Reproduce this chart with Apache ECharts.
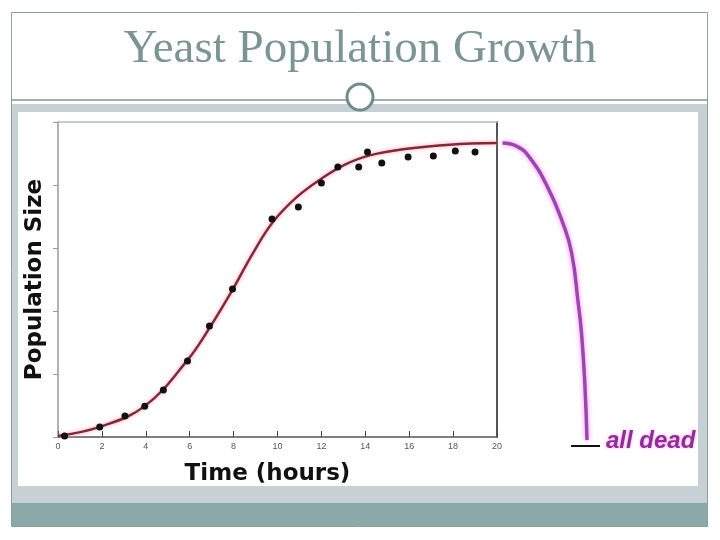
<!DOCTYPE html>
<html>
<head>
<meta charset="utf-8">
<script src="https://cdn.jsdelivr.net/npm/echarts@6/dist/echarts.min.js"></script>
<style>
  html, body { margin: 0; padding: 0; background: #fff; }
  #chart { width: 720px; height: 540px; }
</style>
</head>
<body>
<div id="chart"></div>
<script>
// measured points (hours, population on a 0-100 scale)
var obsTime = [0.3, 1.9, 3.05, 3.95, 4.8, 5.9, 6.9, 7.95, 9.75, 10.95, 12.0, 12.75, 13.7, 14.1, 14.75, 15.95, 17.1, 18.1, 19.0];
var obsPop  = [0.3, 3.2, 6.7, 9.8, 14.9, 24.1, 35.2, 47.0, 69.2, 73.0, 80.6, 85.7, 85.7, 90.5, 87.0, 88.9, 89.2, 90.8, 90.5];

// fitted growth curve
var fitTime = [0, 1.9, 3.95, 5.9, 6.9, 7.95, 8.85, 9.8, 10.9, 12.0, 13.05, 14.2, 16.0, 17.85, 20];
var fitPop  = [0.3, 3.2, 9.8, 24.4, 34.6, 46.7, 58.0, 68.3, 76.3, 82.0, 86.4, 89.4, 91.6, 92.8, 93.3];

// decline after the nutrients run out
var dieTime = [20.25, 20.95, 21.5, 22.3, 23.0, 23.4, 23.7, 23.85, 24.0, 24.1];
var diePop  = [93.3, 92.1, 88.6, 79.4, 67.9, 58.4, 42.5, 33.0, 17.1, -1.0];

function pairs(xs, ys) {
    var out = [];
    for (var i = 0; i < xs.length; i++) {
        out.push([xs[i], ys[i]]);
    }
    return out;
}

var myChart = echarts.init(document.getElementById('chart'));

var option = {
    backgroundColor: '#ffffff',
    animation: false,
    graphic: [
        // slide frame
        { type: 'rect', shape: { x: 11.5, y: 12.5, width: 696, height: 514 },
          style: { fill: 'none', stroke: '#8c9e9e', lineWidth: 1 } },
        { type: 'rect', shape: { x: 12, y: 104, width: 695, height: 400 },
          style: { fill: '#c6d0d5' } },
        { type: 'rect', shape: { x: 18, y: 112, width: 680, height: 374 },
          style: { fill: '#ffffff' } },
        { type: 'rect', shape: { x: 12, y: 503, width: 695, height: 23 },
          style: { fill: '#89aaa8' } },
        { type: 'line', shape: { x1: 11, y1: 100, x2: 708, y2: 100 },
          style: { stroke: '#7f9696', lineWidth: 1.5 } },
        { type: 'circle', shape: { cx: 360, cy: 97, r: 13 },
          style: { fill: '#ffffff', stroke: '#6f8b8b', lineWidth: 3 } },
        { type: 'text', x: 360, y: 73,
          style: { text: 'Yeast Population Growth', align: 'center', verticalAlign: 'bottom',
                   font: '47px "Liberation Serif", serif', fill: '#7b9494' } },
        // "all dead" note
        { type: 'line', shape: { x1: 571, y1: 446, x2: 600, y2: 446 },
          style: { stroke: '#111', lineWidth: 2 }, z: 5 },
        { type: 'text', x: 606, y: 441, z: 5,
          style: { text: 'all dead', verticalAlign: 'middle',
                   font: 'italic bold 24px "Liberation Sans", Arial, sans-serif',
                   fill: '#932c99', textShadowColor: '#ff9cff', textShadowBlur: 3 } }
    ],
    grid: [
        { left: 58, top: 122, width: 439, height: 315, containLabel: false },
        { left: 58, top: 122, width: 658.5, height: 346.5, containLabel: false }
    ],
    xAxis: [
        {
            type: 'value', gridIndex: 0, min: 0, max: 20, interval: 2,
            name: 'Time (hours)', nameLocation: 'middle', nameGap: 26,
            nameTextStyle: { fontFamily: 'DejaVu Sans', fontWeight: 'bold', fontSize: 23,
                             color: '#111', padding: [0, 20, 0, 0] },
            axisLine: { lineStyle: { color: '#555', width: 1.5 } },
            axisTick: { inside: true, length: 6, lineStyle: { color: '#444' } },
            axisLabel: { fontSize: 9, color: '#555', margin: 5 },
            splitLine: { show: false }
        },
        {
            type: 'value', gridIndex: 0, min: 0, max: 20, position: 'top',
            axisLine: { show: true, onZero: false, lineStyle: { color: '#b4b8c4', width: 1.5 } },
            axisTick: { show: false }, axisLabel: { show: false }, splitLine: { show: false }
        },
        {
            type: 'value', gridIndex: 1, min: 0, max: 30, show: false
        }
    ],
    yAxis: [
        {
            type: 'value', gridIndex: 0, min: 0, max: 100, interval: 20,
            name: 'Population Size', nameLocation: 'middle', nameGap: 11,
            nameTextStyle: { fontFamily: 'DejaVu Sans', fontWeight: 'bold', fontSize: 23, color: '#111' },
            axisLine: { lineStyle: { color: '#999', width: 1.5 } },
            axisTick: { length: 5, lineStyle: { color: '#999' } },
            axisLabel: { show: false },
            splitLine: { show: false }
        },
        {
            type: 'value', gridIndex: 0, min: 0, max: 100, position: 'right',
            axisLine: { show: true, onZero: false, lineStyle: { color: '#555', width: 2 } },
            axisTick: { show: false }, axisLabel: { show: false }, splitLine: { show: false }
        },
        {
            type: 'value', gridIndex: 1, min: -10, max: 100, show: false
        }
    ],
    series: [
        {
            type: 'line', xAxisIndex: 0, yAxisIndex: 0,
            data: pairs(fitTime, fitPop), smooth: 0.4, showSymbol: false,
            lineStyle: { color: '#852833', width: 2.5, shadowColor: '#ffa0bc', shadowBlur: 4 },
            z: 3
        },
        {
            type: 'scatter', xAxisIndex: 0, yAxisIndex: 0,
            data: pairs(obsTime, obsPop), symbol: 'circle', symbolSize: 7,
            itemStyle: { color: '#111', opacity: 1 },
            z: 4
        },
        {
            type: 'line', xAxisIndex: 2, yAxisIndex: 2,
            data: pairs(dieTime, diePop), smooth: true, showSymbol: false,
            lineStyle: { color: '#9c47b0', width: 3.5, shadowColor: '#ff86ff', shadowBlur: 5 },
            z: 3
        }
    ]
};

myChart.setOption(option);
</script>
</body>
</html>
